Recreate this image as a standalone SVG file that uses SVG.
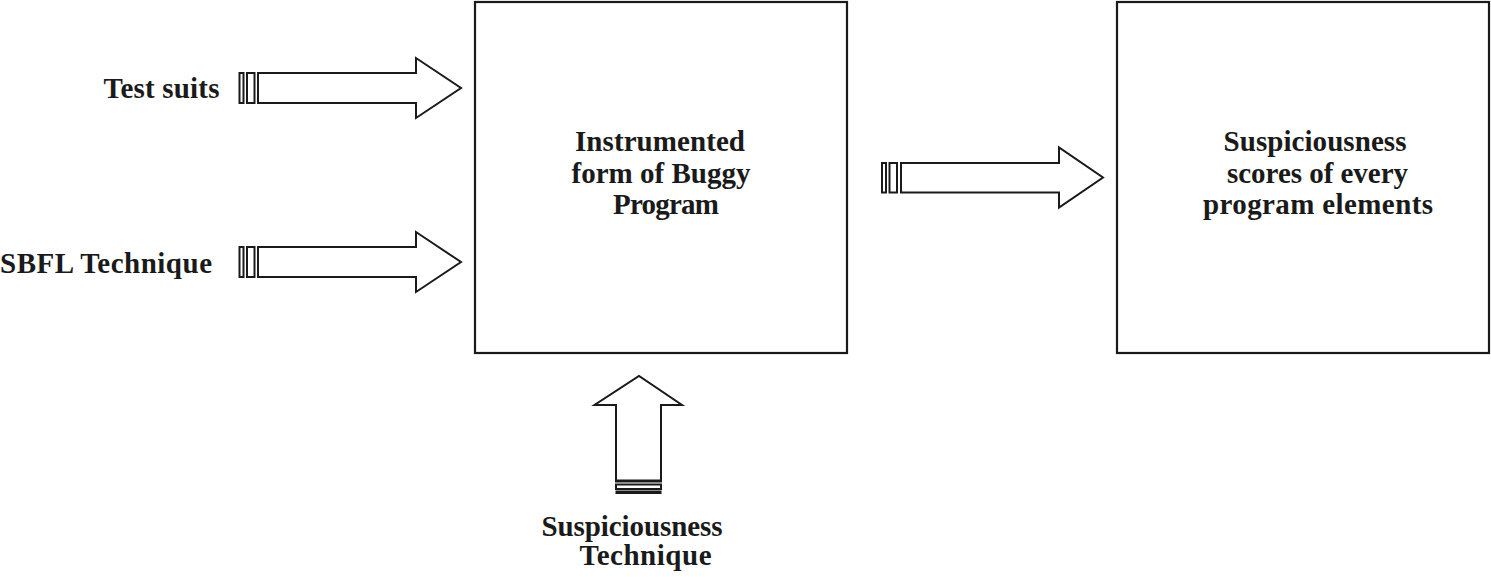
<svg xmlns="http://www.w3.org/2000/svg" width="1491" height="577" viewBox="0 0 1491 577">
<style>
.box{fill:#fff;stroke:#1a1a1a;stroke-width:2.2}
.arr{fill:#fff;stroke:#1a1a1a;stroke-width:2;stroke-linejoin:miter}
.t{font-family:"Liberation Serif","Times New Roman",serif;font-weight:bold;font-size:29px;fill:#1a1a1a}
.c{text-anchor:middle}
</style>
<rect width="1491" height="577" fill="#fff"/>
<g id="box-instrumented">
<rect class="box" x="475" y="2" width="372" height="351"/>
<text class="t c" x="660" y="151" textLength="170" lengthAdjust="spacing">Instrumented</text>
<text class="t c" x="661" y="183" textLength="179" lengthAdjust="spacing">form of Buggy</text>
<text class="t c" x="666" y="214" textLength="106" lengthAdjust="spacing">Program</text>
</g>
<g id="box-scores">
<rect class="box" x="1117" y="2" width="372" height="351"/>
<text class="t c" x="1315" y="151" textLength="183" lengthAdjust="spacing">Suspiciousness</text>
<text class="t c" x="1317.5" y="183" textLength="181" lengthAdjust="spacing">scores of every</text>
<text class="t c" x="1318" y="214" textLength="230" lengthAdjust="spacing">program elements</text>
</g>
<g id="label-test-suits">
<text class="t" x="103.5" y="98" textLength="116" lengthAdjust="spacing">Test suits</text>
</g>
<g id="label-sbfl">
<text class="t" x="0" y="273" textLength="212" lengthAdjust="spacing">SBFL Technique</text>
</g>
<g id="label-suspiciousness-technique">
<text class="t c" x="632" y="536" textLength="181" lengthAdjust="spacing">Suspiciousness</text>
<text class="t c" x="645.5" y="565" textLength="132" lengthAdjust="spacing">Technique</text>
</g>
<g id="connectors">
<g id="arrow-test-suits">
<rect class="arr" x="239.5" y="73" width="4" height="30"/>
<rect class="arr" x="247" y="73" width="7.5" height="30"/>
<polygon class="arr" points="258,73 416,73 416,58 461,88 416,118 416,103 258,103"/>
</g>
<g id="arrow-sbfl">
<rect class="arr" x="239.5" y="247" width="4" height="30"/>
<rect class="arr" x="247" y="247" width="7.5" height="30"/>
<polygon class="arr" points="258,247 416,247 416,232 461,262 416,292 416,277 258,277"/>
</g>
<g id="arrow-middle">
<rect class="arr" x="882" y="163" width="4" height="29.5"/>
<rect class="arr" x="889.5" y="163" width="7.5" height="29.5"/>
<polygon class="arr" points="901,163 1059,163 1059,147.5 1103,177.5 1059,207.5 1059,192.5 901,192.5"/>
</g>
<g id="arrow-up">
<polygon class="arr" points="616,481 616,405 594.5,405 639,376 682,405 661,405 661,481"/>
<line x1="615" y1="481" x2="662" y2="481" stroke="#1a1a1a" stroke-width="3"/>
<rect class="arr" x="616" y="484.5" width="45" height="4.5" stroke-width="1.6"/>
<rect x="615.5" y="490.5" width="46" height="3.5" fill="#1a1a1a"/>
</g>
</g>
</svg>
